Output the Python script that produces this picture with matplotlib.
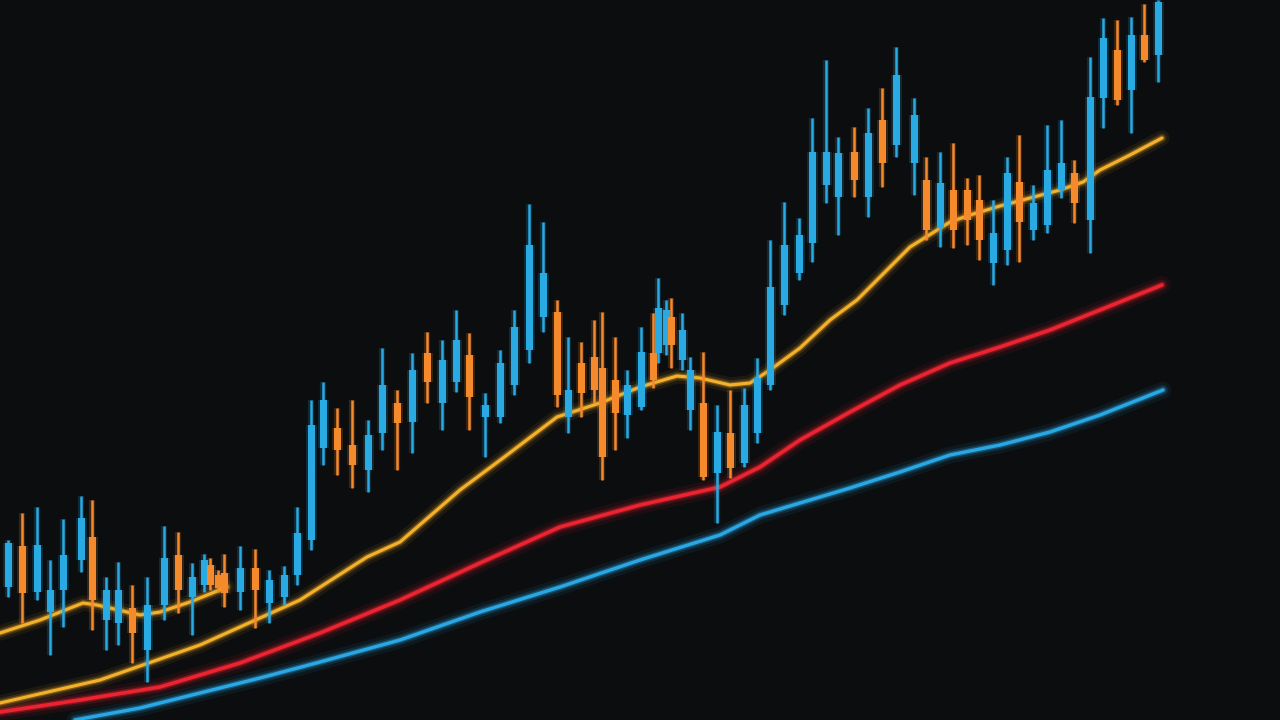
import matplotlib
matplotlib.use("Agg")
import matplotlib.pyplot as plt
import numpy as np

# ---- candle data (time position, open, high, low, close) ----
t = [8, 22, 37, 50, 63, 81, 92, 106, 118, 132, 147, 164, 178, 192, 204, 210, 218, 224,
     240, 255, 269, 284, 297, 311, 323, 337, 352, 368, 382, 397, 412, 427, 442, 456, 469,
     485, 500, 514, 529, 543, 557, 568, 581, 594, 602, 615, 627, 641, 653, 658, 666, 671,
     682, 690, 703, 717, 730, 744, 757, 770, 784, 799, 812, 826, 838, 854, 868, 882, 896,
     914, 926, 940, 953, 967, 979, 993, 1007, 1019, 1033, 1047, 1061, 1074, 1090, 1103,
     1117, 1131, 1144, 1158]
opens = [133, 174, 128, 108, 130, 160, 183, 100, 97, 112, 70, 115, 165, 123, 135, 155, 145, 147,
         128, 152, 117, 123, 145, 180, 272, 292, 275, 250, 287, 317, 298, 367, 317, 338, 365,
         303, 303, 335, 370, 403, 408, 303, 357, 363, 352, 340, 305, 313, 367, 367, 375, 403,
         360, 310, 317, 247, 287, 257, 287, 335, 415, 447, 477, 535, 523, 568, 523, 600, 575,
         557, 540, 492, 530, 530, 520, 457, 470, 538, 490, 495, 530, 547, 500, 622,
         670, 630, 685, 665]
highs = [180, 207, 213, 160, 201, 224, 220, 143, 158, 135, 143, 194, 188, 157, 166, 162, 150, 166,
         174, 171, 150, 154, 213, 320, 338, 312, 320, 300, 372, 330, 367, 388, 380, 410, 387,
         327, 370, 410, 516, 498, 420, 383, 378, 400, 408, 383, 350, 393, 407, 442, 420, 422,
         407, 363, 368, 315, 330, 332, 362, 480, 518, 502, 602, 660, 583, 593, 612, 632, 673,
         622, 563, 568, 577, 542, 545, 520, 563, 585, 535, 595, 600, 560, 663, 702,
         700, 703, 716, 720]
lows = [123, 97, 120, 65, 93, 148, 90, 70, 75, 57, 38, 100, 107, 85, 128, 130, 128, 113,
        110, 92, 97, 115, 135, 170, 255, 245, 232, 228, 270, 250, 267, 317, 290, 328, 290,
        263, 297, 325, 357, 388, 313, 287, 303, 317, 240, 270, 282, 310, 332, 357, 365, 352,
        350, 290, 240, 197, 242, 253, 277, 330, 405, 440, 458, 517, 485, 523, 503, 533, 563,
        525, 480, 473, 472, 475, 460, 435, 455, 458, 480, 487, 522, 497, 467, 592,
        615, 587, 658, 638]
closes = [177, 127, 175, 130, 165, 202, 120, 130, 130, 87, 115, 162, 130, 143, 160, 135, 132, 127,
          152, 130, 140, 145, 187, 295, 320, 270, 255, 285, 335, 297, 350, 338, 360, 380, 323,
          315, 357, 393, 475, 447, 325, 330, 327, 330, 263, 307, 335, 368, 340, 412, 410, 375,
          390, 350, 243, 288, 252, 315, 342, 433, 475, 485, 568, 568, 567, 540, 587, 557, 645,
          605, 490, 537, 490, 500, 480, 487, 547, 498, 517, 550, 557, 517, 623, 682,
          620, 685, 660, 718]

# ---- moving-average lines (time, value) ----
ma_fast_t = [0, 100, 200, 300, 367, 400, 460, 503, 557, 600, 640, 677, 700, 730, 750, 770, 800,
             830, 857, 877, 910, 950, 970, 1000, 1030, 1060, 1083, 1100, 1130, 1162]
ma_fast_v = [17, 40, 75, 120, 163, 178, 230, 262, 303, 317, 333, 344, 342, 335, 337, 350, 372,
             400, 420, 440, 473, 498, 505, 514, 522, 530, 538, 550, 565, 582]
ma_short_t = [0, 40, 83, 97, 140, 160, 190, 227]
ma_short_v = [87, 100, 117, 115, 105, 108, 118, 133]
ma_mid_t = [0, 80, 160, 240, 320, 400, 480, 560, 640, 720, 760, 800, 850, 900, 950, 1000, 1050,
            1100, 1162]
ma_mid_v = [8, 20, 33, 57, 87, 120, 157, 193, 215, 233, 253, 280, 308, 335, 357, 373, 390,
            410, 435]
ma_slow_t = [75, 140, 200, 260, 320, 400, 480, 560, 640, 720, 760, 800, 850, 900, 950, 1000,
             1050, 1100, 1163]
ma_slow_v = [0, 12, 27, 42, 58, 80, 108, 133, 160, 185, 205, 217, 232, 248, 265, 275, 288,
             305, 330]

BG = "#0b0d0f"
UP = "#2aaae2"
DOWN = "#f58a2c"

fig = plt.figure(figsize=(12.8, 7.2), dpi=100, facecolor=BG)
ax = fig.add_axes([0, 0, 1, 1])
ax.set_facecolor(BG)
ax.set_xlim(0, 1280)
ax.set_ylim(0, 720)
ax.axis("off")


def glow_line(x, y, color, lw):
    for w, a in [(lw * 5, 0.08), (lw * 3, 0.15), (lw * 1.8, 0.35)]:
        ax.plot(x, y, color=color, lw=w, alpha=a, solid_capstyle="round",
                solid_joinstyle="round", zorder=1)
    ax.plot(x, y, color=color, lw=lw, solid_capstyle="round", solid_joinstyle="round", zorder=2)


glow_line(ma_slow_t, ma_slow_v, "#2aa8e6", 2.4)
glow_line(ma_mid_t, ma_mid_v, "#ec2330", 2.6)
glow_line(ma_fast_t, ma_fast_v, "#f6b12a", 2.2)
glow_line(ma_short_t, ma_short_v, "#f6b12a", 2.2)

for ti, o, h, l, c in zip(t, opens, highs, lows, closes):
    col = UP if c >= o else DOWN
    lo_b, hi_b = min(o, c), max(o, c)
    ax.vlines(ti, l, h, color=col, lw=4.5, alpha=0.18, zorder=3)
    ax.vlines(ti, l, h, color=col, lw=1.8, zorder=4)
    ax.bar(ti, hi_b - lo_b, bottom=lo_b, width=11, color=col, alpha=0.18, zorder=3, linewidth=0)
    ax.bar(ti, hi_b - lo_b, bottom=lo_b, width=7, color=col, zorder=5, linewidth=0)

fig.savefig("out.png", dpi=100, facecolor=BG)
